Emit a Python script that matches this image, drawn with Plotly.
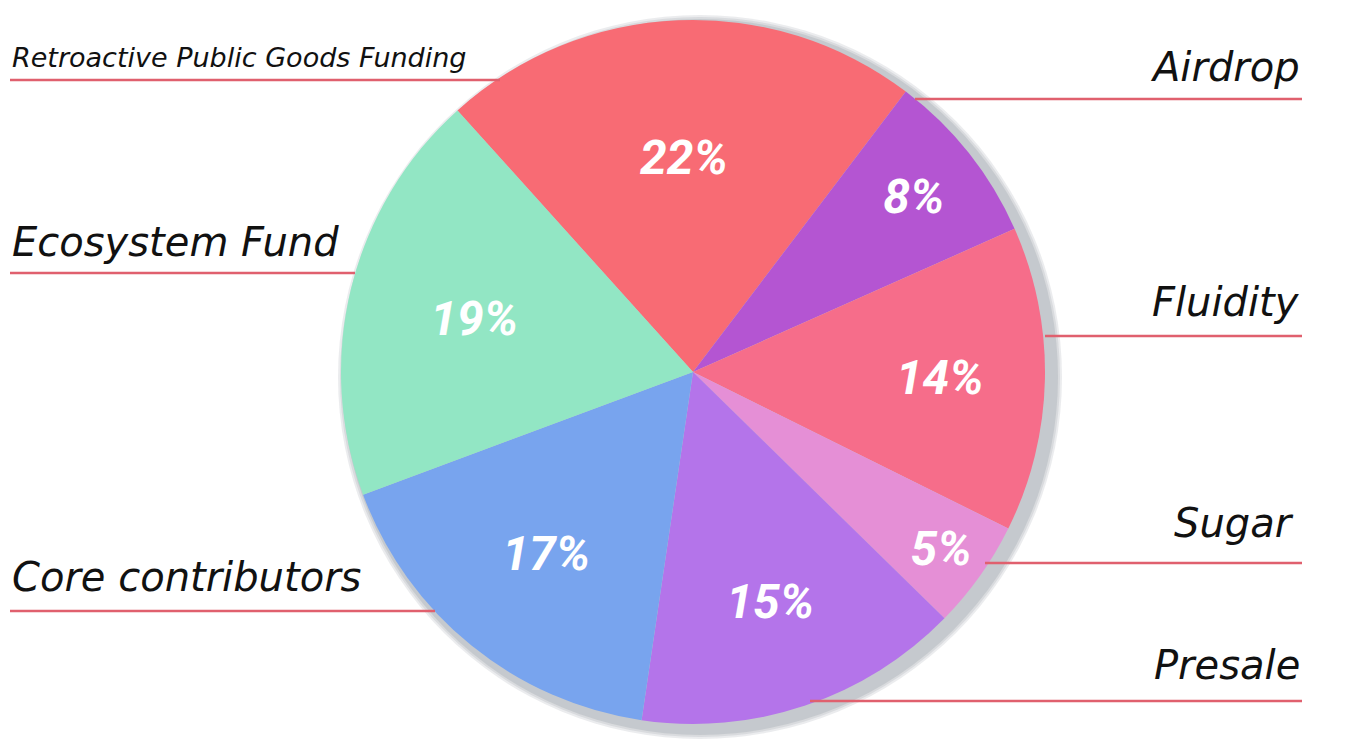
import plotly.graph_objects as go

labels = ["Retroactive Public Goods Funding", "Airdrop", "Fluidity", "Sugar", "Presale", "Core contributors", "Ecosystem Fund"]
values = [22, 8, 14, 5, 15, 17, 19]
colors = ["#f86b74", "#b455d2", "#f66d8a", "#e58fd6", "#b474ea", "#78a4ee", "#92e6c4"]

W, H = 1358, 744
OX, OY = -8, -8  # page offset compensation
cx, cy, r = 693 + OX, 372 + OY, 352

def px(x): return (x + 0.0) / W
def py(y): return 1 - y / H

fig = go.Figure()
for i, a in enumerate([0.10, 0.10, 0.12]):
    g = 14 - 4 * i
    fig.add_shape(type="circle", xref="paper", yref="paper",
                  x0=px(cx - r + 4 - g / 2), x1=px(cx + r + 10 + g / 2),
                  y0=py(cy + r + 8 + g / 2), y1=py(cy - r + 2 - g / 2),
                  fillcolor=f"rgba(60,70,90,{a})", line=dict(width=0), layer="below")
fig.add_trace(go.Pie(
    labels=labels, values=values, sort=False, direction="clockwise", rotation=-42,
    marker=dict(colors=colors, line=dict(width=0)),
    texttemplate="%{value}%", textposition="inside", insidetextorientation="horizontal",
    textfont=dict(family="Roboto", size=48, color="white", style="italic", weight="bold"),
    domain=dict(x=[px(cx - r), px(cx + r)], y=[py(cy + r), py(cy - r)]),
    showlegend=False, hoverinfo="label+value",
))

ann = [
    ("Retroactive Public Goods Funding", 10, 57, "left", 27, 80, 10, 500),
    ("Ecosystem Fund", 10, 242, "left", 40, 273, 10, 355),
    ("Core contributors", 10, 577, "left", 40, 611, 10, 435),
    ("Airdrop", 1302, 67, "right", 40, 99, 915, 1302),
    ("Fluidity", 1302, 302, "right", 40, 336, 1045, 1302),
    ("Sugar", 1296, 523, "right", 40, 563, 985, 1302),
    ("Presale", 1302, 665, "right", 40, 701, 810, 1302),
]
for t, x, y, al, sz, ly, lx0, lx1 in ann:
    fig.add_annotation(text=t, x=px(x + OX), y=py(y + OY), xref="paper", yref="paper",
                       xanchor=al, yanchor="middle", showarrow=False,
                       font=dict(family="DejaVu Sans", size=sz, color="#111111", style="italic"))
    fig.add_shape(type="line", xref="paper", yref="paper", x0=px(lx0 + OX), x1=px(lx1 + OX),
                  y0=py(ly + OY), y1=py(ly + OY), line=dict(color="#e0606e", width=2.5))

fig.update_layout(width=W, height=H, margin=dict(l=0, r=0, t=0, b=0),
                  paper_bgcolor="white", plot_bgcolor="white")
fig.write_html("out.html")
